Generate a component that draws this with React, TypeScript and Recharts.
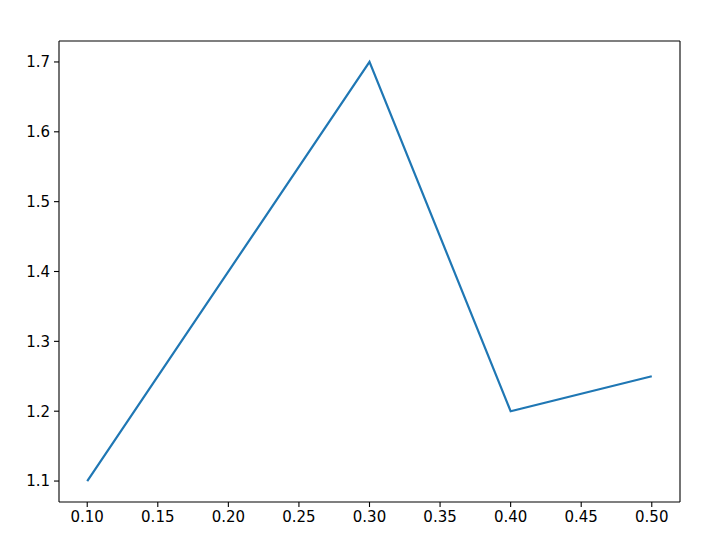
import React from "react";
import { LineChart, Line, XAxis, YAxis, ReferenceLine } from "recharts";

const xValues = [0.1, 0.3, 0.4, 0.5];
const yValues = [1.1, 1.7, 1.2, 1.25];
const xTicks = [0.1, 0.15, 0.2, 0.25, 0.3, 0.35, 0.4, 0.45, 0.5];
const yTicks = [1.1, 1.2, 1.3, 1.4, 1.5, 1.6, 1.7];
const xDomain = [0.08, 0.52];
const yDomain = [1.07, 1.73];

const data = xValues.map((x, i) => ({ x, y: yValues[i] }));

const tickStyle = { fill: "#000", fontSize: 15, fontFamily: "DejaVu Sans" };
const axisLine = { stroke: "#000", strokeWidth: 1.1 };

const App: React.FC = () => {
  return (
    <div style={{ position: "absolute", left: 0, top: 0, background: "#fff" }}>
      <LineChart width={703} height={545} data={data} margin={{ top: 41, right: 23, bottom: 13, left: 0 }}>
        <XAxis
          dataKey="x"
          type="number"
          domain={xDomain}
          ticks={xTicks}
          tickFormatter={(v: number) => v.toFixed(2)}
          allowDataOverflow
          height={30}
          tickSize={5}
          tickMargin={4}
          tick={tickStyle}
          axisLine={axisLine}
          tickLine={axisLine}
        />
        <YAxis
          type="number"
          domain={yDomain}
          ticks={yTicks}
          tickFormatter={(v: number) => v.toFixed(1)}
          allowDataOverflow
          width={59}
          tickSize={5}
          tickMargin={4}
          tick={tickStyle}
          axisLine={axisLine}
          tickLine={axisLine}
        />
        {/* top and right spines */}
        <ReferenceLine y={yDomain[1]} stroke="#000" strokeWidth={1.1} ifOverflow="visible" />
        <ReferenceLine x={xDomain[1]} stroke="#000" strokeWidth={1.1} ifOverflow="visible" />
        <Line
          dataKey="y"
          stroke="#1f77b4"
          strokeWidth={2.2}
          dot={false}
          isAnimationActive={false}
        />
      </LineChart>
    </div>
  );
};

export default App;
